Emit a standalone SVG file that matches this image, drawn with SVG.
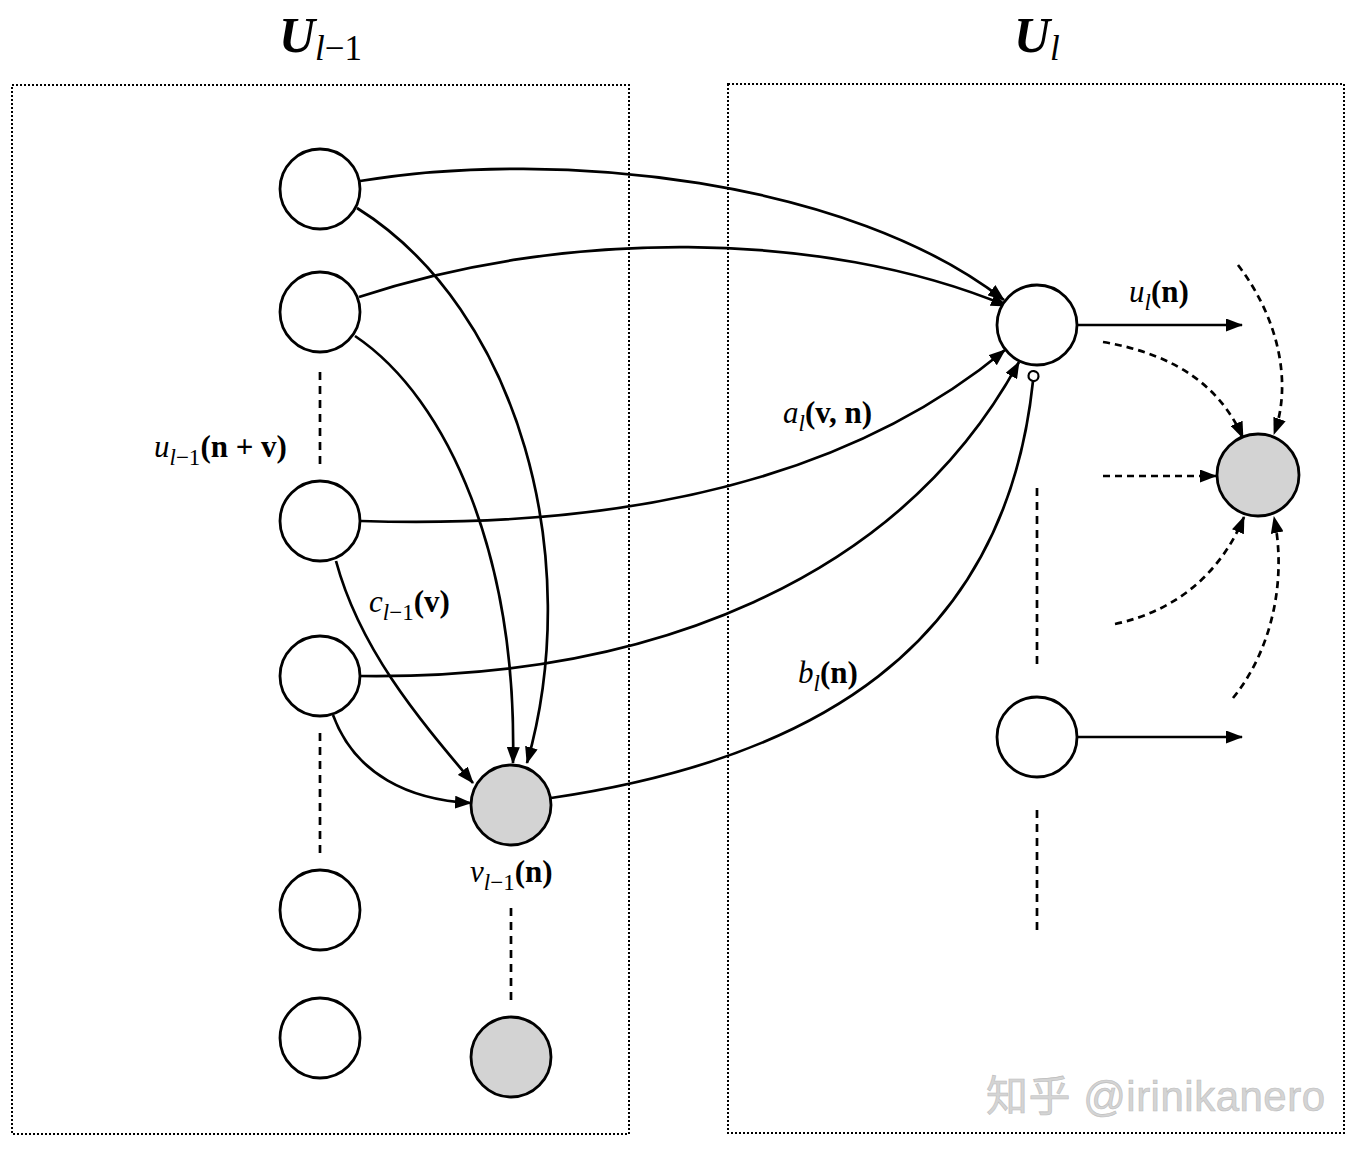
<svg xmlns="http://www.w3.org/2000/svg" width="1356" height="1150" viewBox="0 0 1356 1150">
<defs>
<marker id="ah" markerWidth="17" markerHeight="13" refX="16" refY="6.5" orient="auto" markerUnits="userSpaceOnUse">
<path d="M0,0 L17,6.5 L0,13 Z" fill="#000"/>
</marker>
<marker id="oc" markerWidth="14" markerHeight="14" refX="2" refY="7" orient="auto" markerUnits="userSpaceOnUse">
<circle cx="7" cy="7" r="5" fill="#fff" stroke="#000" stroke-width="2.2"/>
</marker>
<style>
.box{fill:none;stroke:#000;stroke-width:2;stroke-dasharray:2 2}
.n{fill:#fff;stroke:#000;stroke-width:2.8}
.g{fill:#d3d3d3;stroke:#000;stroke-width:2.8}
.e{fill:none;stroke:#000;stroke-width:2.7}
.d{fill:none;stroke:#000;stroke-width:2.7;stroke-dasharray:7 5}
.vd{fill:none;stroke:#000;stroke-width:2.7;stroke-dasharray:8 6}
.t{font-family:"Liberation Serif","Times New Roman",serif;font-size:31px;fill:#000}
.ti{font-family:"Liberation Serif","Times New Roman",serif;fill:#000}
.wm{font-family:"Liberation Sans","Noto Sans CJK SC",sans-serif;font-size:42px;fill:#d4d4d4;stroke:#bdbdbd;stroke-width:0.6;letter-spacing:0.5px}
</style>
</defs>
<rect class="box" x="12" y="85" width="617" height="1049"/>
<rect class="box" x="728" y="84" width="616" height="1049"/>
<text class="ti" x="279" y="52"><tspan font-size="50" font-weight="bold" font-style="italic">U</tspan><tspan font-size="35" font-style="italic" dy="8">l</tspan><tspan font-size="35" dy="0">−1</tspan></text>
<text class="ti" x="1014" y="52"><tspan font-size="50" font-weight="bold" font-style="italic">U</tspan><tspan font-size="35" font-style="italic" dy="8">l</tspan></text>
<g id="connectors">
<path class="e" d="M360,181 C560,148 850,180 1004,300" marker-end="url(#ah)"/>
<path class="e" d="M357,208 C520,310 585,560 527,763" marker-end="url(#ah)"/>
<path class="e" d="M359,297 C560,230 820,228 1007,306" marker-end="url(#ah)"/>
<path class="e" d="M355,336 C450,400 517,560 513,763" marker-end="url(#ah)"/>
<path class="e" d="M361,521 C650,530 860,470 1005,350" marker-end="url(#ah)"/>
<path class="e" d="M336,561 C360,650 420,720 473,783" marker-end="url(#ah)"/>
<path class="e" d="M359,676 C650,680 900,580 1019,362" marker-end="url(#ah)"/>
<path class="e" d="M333,715 C355,775 410,800 471,803" marker-end="url(#ah)"/>
<path class="e" d="M551,798 C810,760 1005,650 1033,381" marker-end="url(#oc)"/>
<path class="e" d="M1077,325 L1242,325" marker-end="url(#ah)"/>
<path class="e" d="M1077,737 L1242,737" marker-end="url(#ah)"/>
<path class="d" d="M1238,265 C1280,320 1292,385 1274,434" marker-end="url(#ah)"/>
<path class="d" d="M1103,342 C1180,355 1222,390 1243,438" marker-end="url(#ah)"/>
<path class="d" d="M1103,476 L1216,476" marker-end="url(#ah)"/>
<path class="d" d="M1115,624 C1180,610 1222,570 1244,517" marker-end="url(#ah)"/>
<path class="d" d="M1233,698 C1272,650 1287,580 1274,517" marker-end="url(#ah)"/>
<path class="vd" d="M320,372 L320,466"/>
<path class="vd" d="M320,733 L320,856"/>
<path class="vd" d="M511,908 L511,1000"/>
<path class="vd" d="M1037,488 L1037,666"/>
<path class="vd" d="M1037,810 L1037,932"/>
</g>
<g id="node-l1"><circle class="n" cx="320" cy="189" r="40"/></g>
<g id="node-l2"><circle class="n" cx="320" cy="312" r="40"/></g>
<g id="node-l3"><circle class="n" cx="320" cy="521" r="40"/></g>
<g id="node-l4"><circle class="n" cx="320" cy="676" r="40"/></g>
<g id="node-l5"><circle class="n" cx="320" cy="910" r="40"/></g>
<g id="node-l6"><circle class="n" cx="320" cy="1038" r="40"/></g>
<g id="node-v1"><circle class="g" cx="511" cy="805" r="40"/></g>
<g id="node-v2"><circle class="g" cx="511" cy="1057" r="40"/></g>
<g id="node-r1"><circle class="n" cx="1037" cy="325" r="40"/></g>
<g id="node-r2"><circle class="n" cx="1037" cy="737" r="40"/></g>
<g id="node-rg"><circle class="g" cx="1258" cy="475" r="41"/></g>
<g id="labels">
<text class="t" x="154" y="457"><tspan font-style="italic">u</tspan><tspan font-size="23" dy="8" font-style="italic">l</tspan><tspan font-size="23">−1</tspan><tspan dy="-8" font-weight="bold">(n + v)</tspan></text>
<text class="t" x="369" y="612"><tspan font-style="italic">c</tspan><tspan font-size="23" dy="8" font-style="italic">l</tspan><tspan font-size="23">−1</tspan><tspan dy="-8" font-weight="bold">(v)</tspan></text>
<text class="t" x="470" y="882"><tspan font-style="italic">v</tspan><tspan font-size="23" dy="8" font-style="italic">l</tspan><tspan font-size="23">−1</tspan><tspan dy="-8" font-weight="bold">(n)</tspan></text>
<text class="t" x="783" y="423"><tspan font-style="italic">a</tspan><tspan font-size="23" dy="8" font-style="italic">l</tspan><tspan dy="-8" font-weight="bold">(v, n)</tspan></text>
<text class="t" x="798" y="683"><tspan font-style="italic">b</tspan><tspan font-size="23" dy="8" font-style="italic">l</tspan><tspan dy="-8" font-weight="bold">(n)</tspan></text>
<text class="t" x="1129" y="302"><tspan font-style="italic">u</tspan><tspan font-size="23" dy="8" font-style="italic">l</tspan><tspan dy="-8" font-weight="bold">(n)</tspan></text>
</g>
<text class="wm" x="986" y="1111">知乎 @irinikanero</text>
</svg>
